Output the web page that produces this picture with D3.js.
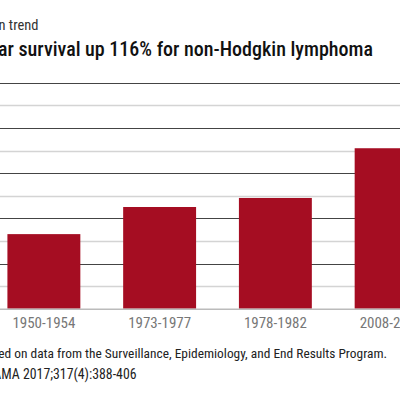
<!DOCTYPE html>
<html>
<head>
<meta charset="utf-8">
<script src="https://cdn.jsdelivr.net/npm/d3@7"></script>
<style>
  body { margin: 0; background: #fff; }
  svg { display: block; }
</style>
</head>
<body>
<div id="chart"></div>
<script>
// data
const periods = ["1950-1954", "1973-1977", "1978-1982", "2008-2012"];
const survival = [33, 45, 49, 71];
const gridTicks = d3.range(10, 101, 10);

const width = 400;
const height = 400;
const font = "'Liberation Sans Narrow', 'Roboto Condensed', sans-serif";

const svg = d3.select("#chart")
  .append("svg")
  .attr("width", width)
  .attr("height", height);

//scales
const x = d3.scaleBand()
  .domain(periods)
  .range([-14, 449])
  .paddingInner(0.37)
  .paddingOuter(0.185);

const y = d3.scaleLinear().domain([0, 100]).range([308.7, 82.7]);

//grid
svg.append("g")
  .selectAll("line")
  .data(gridTicks)
  .join("line")
  .attr("x1", 0)
  .attr("x2", width)
  .attr("y1", (d) => Math.round(y(d)) + 0.5)
  .attr("y2", (d) => Math.round(y(d)) + 0.5)
  .attr("stroke", (d) => (d % 20 === 0 ? "#444" : "#d4d4d4"))
  .attr("stroke-width", (d) => (d % 20 === 0 ? 1.2 : 1.4));

//bars
svg.append("g")
  .selectAll("rect")
  .data(periods)
  .join("rect")
  .attr("x", (d) => x(d))
  .attr("width", x.bandwidth())
  .attr("y", (d, i) => y(survival[i]))
  .attr("height", (d, i) => y(0) - y(survival[i]))
  .attr("fill", "#a50d22");

//baseline + labels
const xAxis = svg.append("g")
  .attr("transform", `translate(0,${y(0)})`)
  .call(d3.axisBottom(x).tickSize(0).tickPadding(9));
xAxis.select(".domain")
  .attr("d", `M0,0.5H${width}`)
  .attr("stroke", "#bbb")
  .attr("stroke-width", 1.6);
xAxis.selectAll("text")
  .attr("font-family", font)
  .attr("font-size", 15)
  .attr("fill", "#777");

//titles (left part cropped off in the source image)
svg.append("text")
  .attr("x", -1.5)
  .attr("y", 29.5)
  .attr("font-family", font)
  .attr("font-size", 14.5)
  .attr("fill", "#333")
  .text("n trend");

svg.append("text")
  .attr("x", 373)
  .attr("y", 56)
  .attr("text-anchor", "end")
  .attr("font-family", font)
  .attr("font-size", 20)
  .attr("font-weight", 500)
  .attr("fill", "#111")
  .text("5-year survival up 116% for non-Hodgkin lymphoma");

//notes
svg.append("text")
  .attr("x", 387)
  .attr("y", 358)
  .attr("text-anchor", "end")
  .attr("font-family", font)
  .attr("font-size", 13.4)
  .attr("fill", "#222")
  .text("Note: Based on data from the Surveillance, Epidemiology, and End Results Program.");

svg.append("text")
  .attr("x", 136.5)
  .attr("y", 378.5)
  .attr("text-anchor", "end")
  .attr("font-family", font)
  .attr("font-size", 13.8)
  .attr("fill", "#222")
  .text("Source: JAMA 2017;317(4):388-406");
</script>
</body>
</html>
